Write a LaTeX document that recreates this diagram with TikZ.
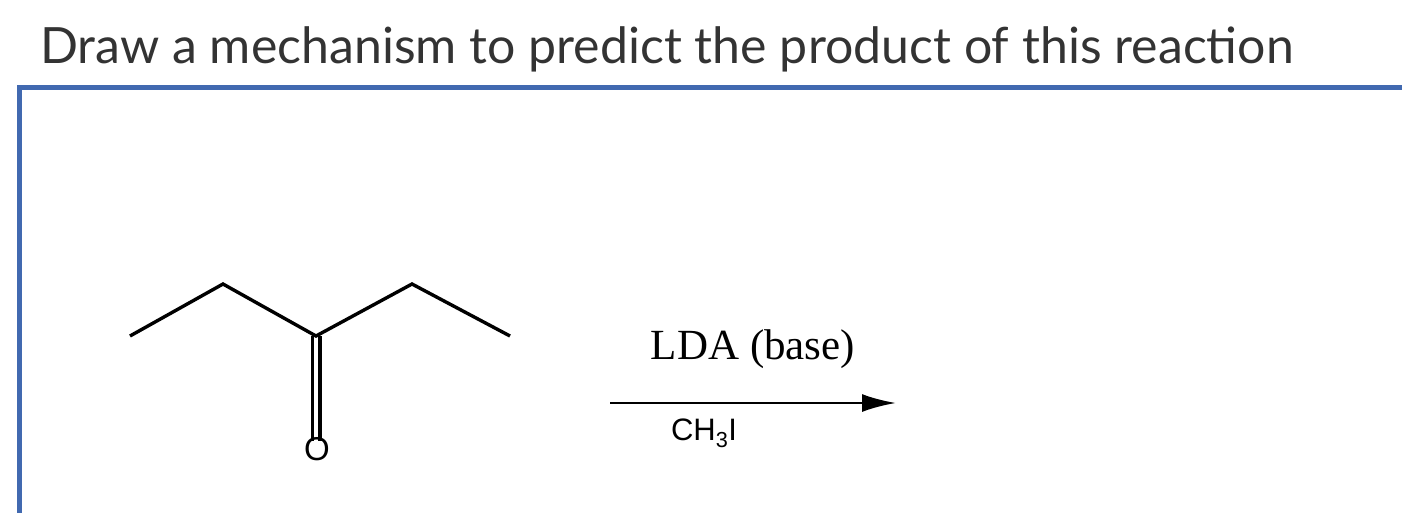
\documentclass[tikz,border=0pt]{standalone}
\usepackage{fontspec}
\setmainfont{Liberation Serif}
\newfontfamily\titlefont{Lato}
\newfontfamily\helv{Liberation Sans}
\usetikzlibrary{arrows.meta}
\definecolor{frameblue}{HTML}{4169B0}
\definecolor{titlegray}{HTML}{333333}
\begin{document}
\begin{tikzpicture}[x=1pt,y=-1pt,
  bond/.style={line width=3.4pt,line join=miter},
  lbl/.style={inner sep=0pt}]
\useasboundingbox (0,0) rectangle (1402,512);
\node[lbl,anchor=base west,text=titlegray,font=\titlefont\fontsize{50}{56}\selectfont] (title) at (40,63) {Draw a mechanism to predict the product of this reaction};
\draw[frameblue,line width=5pt] (19,514) -- (19,87) -- (1404,87);
\coordinate (c1) at (130,336);
\coordinate (c2) at (223,284);
\coordinate (c3) at (316,336);
\coordinate (c4) at (412,284);
\coordinate (c5) at (510,336);
\node[lbl,font=\helv\fontsize{33}{36}\selectfont] (o) at (317,449) {O};
\draw[bond] (c1) -- (c2) -- (c3) -- (c4) -- (c5);
\draw[bond,line cap=butt] ([xshift=-3.8pt]c3) -- ([xshift=-3.8pt,yshift=-4pt]c3 |- o.north);
\draw[bond,line cap=butt] ([xshift=3.8pt]c3) -- ([xshift=3.8pt,yshift=-4pt]c3 |- o.north);
\coordinate (a1) at (610,403);
\coordinate (a2) at (896,403);
\draw[line width=2.8pt,-{Latex[length=34pt,width=18pt]}] (a1) -- (a2);
\node[lbl,font=\fontsize{43}{48}\selectfont] (lda) at (753,349) {LDA (base)};
\node[lbl,font=\helv\fontsize{31}{34}\selectfont] (ch3i) at (704,433) {CH\textsubscript{3}I};
\end{tikzpicture}
\end{document}
